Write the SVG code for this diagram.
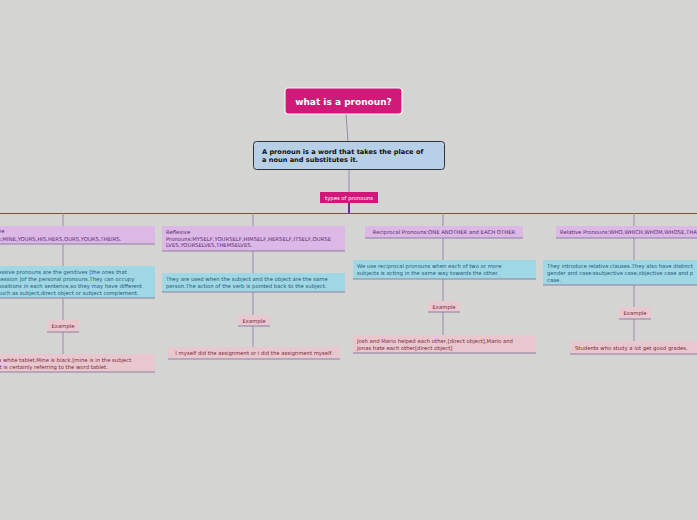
<svg xmlns="http://www.w3.org/2000/svg" width="697" height="520" viewBox="0 0 697 520">
<style>
text{font-family:"DejaVu Sans","Liberation Sans",sans-serif}
.pu{fill:#dcb8e6}.bl{fill:#a0d7e4}.pk{fill:#e9c7cf}
.t{font-size:5.3px}
.tp{fill:#5b2a70}.tb{fill:#24587a}.tk{fill:#7a2838}
.ul{stroke:#8a7fa0;stroke-width:1}
.c{stroke:#9a88ab;stroke-width:1;fill:none}
</style>
<rect width="697" height="520" fill="#d4d5d2"/>
<g id="connectors">
<line class="c" x1="346" y1="114" x2="348" y2="141"/>
<line class="c" x1="349" y1="169" x2="349" y2="193"/>
<line x1="349" y1="203" x2="349" y2="213" stroke="#6b2f85" stroke-width="2"/>
<line x1="0" y1="213.5" x2="697" y2="213.5" stroke="#7b3f8f" stroke-width="1.2"/>
<path class="c" d="M63 213V226M63 244V266M63 298V320M63 332V354"/>
<path class="c" d="M253 213V226M253 251V273M253 292V315M253 326V347"/>
<path class="c" d="M443 213V226M443 238V260M443 279V301M443 312V335"/>
<path class="c" d="M634 213V226M634 238V260M634 285V307M634 319V341"/>
</g>
<g id="root">
<rect x="285" y="88" width="117" height="26" rx="3" fill="#d01a79" stroke="#f3f0f2" stroke-width="1.2"/>
<text x="343.5" y="105" text-anchor="middle" font-size="9" font-weight="bold" fill="#fff">what is a pronoun?</text>
</g>
<g id="definition">
<rect x="253.5" y="141.5" width="191" height="28" rx="3" fill="#b8cfe8" stroke="#333" stroke-width="1"/>
<text x="262" y="154" font-size="6.6" font-weight="bold" fill="#111">A pronoun is a word that takes the place of</text>
<text x="262" y="162" font-size="6.6" font-weight="bold" fill="#111">a noun and substitutes it.</text>
</g>
<g id="types">
<rect x="320" y="192" width="58" height="11" fill="#d1177a"/>
<text x="349" y="200" text-anchor="middle" font-size="5.3" fill="#fff">types of pronouns</text>
</g>
<g id="possessive">
<rect class="pu" x="-5" y="226" width="160" height="18"/><line class="ul" x1="-5" y1="244" x2="155" y2="244"/>
<text class="t tp" x="-2" y="233">ve</text><text class="t tp" x="-2" y="240.5">s:MINE,YOURS,HIS,HERS,OURS,YOURS,THEIRS.</text>
</g>
<g id="possessive-desc">
<rect class="bl" x="-5" y="266" width="160" height="32"/><line class="ul" x1="-5" y1="298" x2="155" y2="298"/>
<text class="t tb" x="-2" y="274">essive pronouns are the genitives [the ones that</text>
<text class="t tb" x="-2" y="281">session ]of the personal  pronouns.They can occupy</text>
<text class="t tb" x="-2" y="288">positions in each sentence,so they may have different</text>
<text class="t tb" x="-2" y="295">such as subject,direct object or subject complement.</text>
</g>
<g id="possessive-ex">
<rect class="pk" x="47" y="320" width="32" height="12"/><line class="ul" x1="47" y1="332" x2="79" y2="332"/>
<text class="t tk" x="63" y="328" text-anchor="middle">Example</text>
</g>
<g id="possessive-sample">
<rect class="pk" x="-5" y="354" width="160" height="18"/><line class="ul" x1="-5" y1="372" x2="155" y2="372"/>
<text class="t tk" x="-2" y="361.5">a white tablet.Mine is black.[mine is in the subject</text>
<text class="t tk" x="-2" y="368.5">It is certainly referring to the word tablet.</text>
</g>
<g id="reflexive">
<rect class="pu" x="162" y="226" width="183" height="25"/><line class="ul" x1="162" y1="251" x2="345" y2="251"/>
<text class="t tp" x="166" y="233.5">Reflexive</text>
<text class="t tp" x="166" y="240.5">Pronouns:MYSELF,YOURSELF,HIMSELF,HERSELF,ITSELF,OURSE</text>
<text class="t tp" x="166" y="247">LVES,YOURSELVES,THEMSELVES.</text>
</g>
<g id="reflexive-desc">
<rect class="bl" x="162" y="273" width="183" height="19"/><line class="ul" x1="162" y1="292" x2="345" y2="292"/>
<text class="t tb" x="166" y="281">They are used when the subject and the object are the same</text>
<text class="t tb" x="166" y="288">person.The action of the verb is pointed back to the subject.</text>
</g>
<g id="reflexive-ex">
<rect class="pk" x="238" y="315" width="32" height="11"/><line class="ul" x1="238" y1="326" x2="270" y2="326"/>
<text class="t tk" x="254" y="322.5" text-anchor="middle">Example</text>
</g>
<g id="reflexive-sample">
<rect class="pk" x="168" y="347" width="172" height="12"/><line class="ul" x1="168" y1="359" x2="340" y2="359"/>
<text class="t tk" x="254" y="355" text-anchor="middle">I myself did the assignment or i did the assignment myself.</text>
</g>
<g id="reciprocal">
<rect class="pu" x="365" y="226" width="158" height="12"/><line class="ul" x1="365" y1="238" x2="523" y2="238"/>
<text class="t tp" x="444" y="234" text-anchor="middle">Reciprocal Pronouns:ONE ANOTHER and EACH OTHER</text>
</g>
<g id="reciprocal-desc">
<rect class="bl" x="353" y="260" width="183" height="19"/><line class="ul" x1="353" y1="279" x2="536" y2="279"/>
<text class="t tb" x="357" y="268">We use reciprocal pronouns when each of two or more</text>
<text class="t tb" x="357" y="275">subjects is acting in the same way towards the other.</text>
</g>
<g id="reciprocal-ex">
<rect class="pk" x="428" y="301" width="32" height="11"/><line class="ul" x1="428" y1="312" x2="460" y2="312"/>
<text class="t tk" x="444" y="308.5" text-anchor="middle">Example</text>
</g>
<g id="reciprocal-sample">
<rect class="pk" x="353" y="335" width="183" height="18"/><line class="ul" x1="353" y1="353" x2="536" y2="353"/>
<text class="t tk" x="357" y="342.5">Josh and Mario helped each other,[direct object],Mario and</text>
<text class="t tk" x="357" y="349.5">Jonas hate each other[direct object]</text>
</g>
<g id="relative">
<rect class="pu" x="556" y="226" width="146" height="12"/><line class="ul" x1="556" y1="238" x2="702" y2="238"/>
<text class="t tp" x="560" y="234">Relative Pronouns:WHO,WHICH,WHOM,WHOSE,THAT</text>
</g>
<g id="relative-desc">
<rect class="bl" x="543" y="260" width="159" height="25"/><line class="ul" x1="543" y1="285" x2="702" y2="285"/>
<text class="t tb" x="547" y="268">They introduce relative clauses.They also have distinct</text>
<text class="t tb" x="547" y="275">gender and case:ssubjective case,objective case and p</text>
<text class="t tb" x="547" y="282">case.</text>
</g>
<g id="relative-ex">
<rect class="pk" x="619" y="307" width="32" height="12"/><line class="ul" x1="619" y1="319" x2="651" y2="319"/>
<text class="t tk" x="635" y="315" text-anchor="middle">Example</text>
</g>
<g id="relative-sample">
<rect class="pk" x="570" y="341" width="132" height="13"/><line class="ul" x1="570" y1="354" x2="702" y2="354"/>
<text class="t tk" x="575" y="349.5">Students who study a lot get good grades.</text>
</g>
</svg>
